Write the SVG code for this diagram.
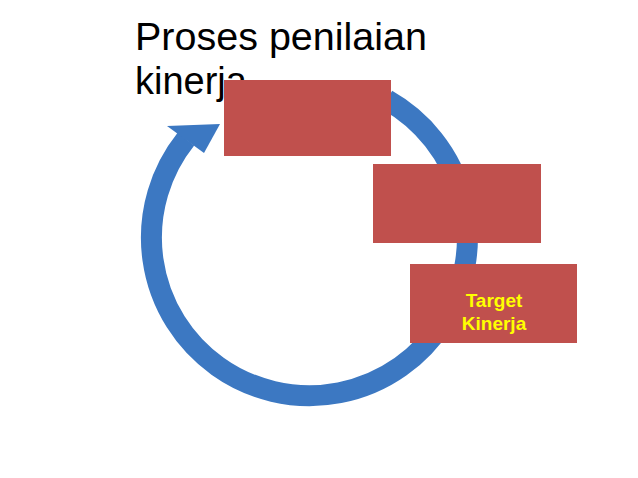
<svg xmlns="http://www.w3.org/2000/svg" width="638" height="478" viewBox="0 0 638 478">
<style>
.box{fill:#C0504D}
.lbl{font-family:"Liberation Sans",Arial,sans-serif;font-weight:bold;font-size:19px;fill:#FFFF00;text-anchor:middle}
.title{font-family:"Liberation Sans",Arial,sans-serif;font-size:38px;fill:#000}
</style>
<rect width="638" height="478" fill="#fff"/>
<g id="connectors">
<path d="M 387 100 A 158 158 0 1 1 186 139" fill="none" stroke="#3C78C2" stroke-width="21"/>
<polygon points="167,126 204,153 220,124" fill="#3C78C2"/>
</g>
<text class="title" x="135" y="50" textLength="292" lengthAdjust="spacingAndGlyphs">Proses penilaian</text>
<text class="title" x="135" y="94">kinerja</text>
<g id="node1"><rect class="box" x="224" y="80" width="167" height="76"/></g>
<g id="node2"><rect class="box" x="373" y="164" width="168" height="79"/></g>
<g id="node3"><rect class="box" x="410" y="264" width="167" height="79"/>
<text class="lbl" x="494" y="307">Target</text><text class="lbl" x="494" y="330">Kinerja</text></g>
</svg>
